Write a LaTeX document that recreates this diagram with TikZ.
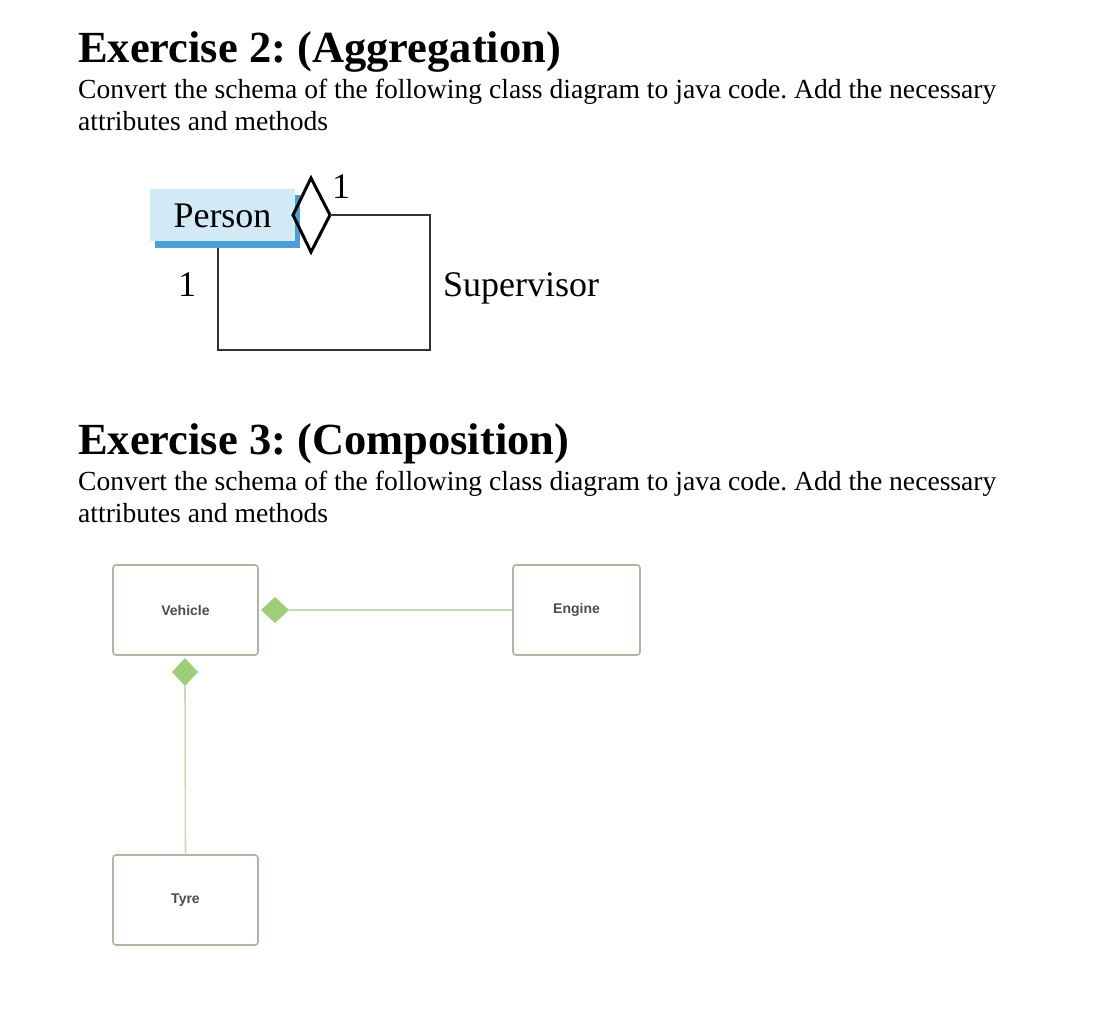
\documentclass[tikz,border=0pt]{standalone}
\usepackage{fontspec}
\setmainfont{Liberation Serif}
\newfontfamily\lsans{Liberation Sans}
\definecolor{pfill}{HTML}{D2EAF6}
\definecolor{pshade}{HTML}{4A9FD8}
\definecolor{gbord}{HTML}{A9B8A0}
\definecolor{gln}{HTML}{C4DDB4}
\definecolor{gdc}{HTML}{9FCD78}
\begin{document}
\frenchspacing
\begin{tikzpicture}[x=1pt,y=-1pt,
  title/.style={anchor=base west,inner sep=0,font=\fontsize{44.5}{48}\selectfont\bfseries},
  body/.style={anchor=base west,inner sep=0,font=\fontsize{27.6}{30}\selectfont},
  uml/.style={anchor=base,inner sep=0,font=\fontsize{36}{40}\selectfont},
  cls/.style={draw=gbord,line width=1.6pt,rounded corners=3pt,fill=white,minimum width=145pt,minimum height=90pt,font=\lsans\bfseries\fontsize{14}{16}\selectfont,text=black!70},
  gline/.style={draw=gln,line width=1.6pt},
  gdia/.style={fill=gdc}]
\useasboundingbox (0,0) rectangle (1101,1023);
\node[title] (t2) at (78,62) {Exercise 2: (Aggregation)};
\node[body] (b2a) at (78,98) {Convert the schema of the following class diagram to java code. Add the necessary};
\node[body] (b2b) at (78,130) {attributes and methods};
% Person
\fill[pshade] (155,195) rectangle (300,248);
\node[fill=pfill,minimum width=145pt,minimum height=52pt,inner sep=0] (person) at (222.5,215) {};
\node[uml] (pl) at (person.center) [yshift=-12] {Person};
\coordinate (dl) at (293,215); \coordinate (dt) at (311,178);
\coordinate (dr) at (330,215); \coordinate (db) at (311,252);
\draw[line width=3pt,line join=miter] (dl) -- (dt) -- (dr) -- (db) -- cycle;
\coordinate (c1) at (430,215); \coordinate (c2) at (430,350); \coordinate (c3) at (218,350); \coordinate (c4) at (218,248);
\draw[line width=1.5pt,black!80] (dr) -- (c1) -- (c2) -- (c3) -- (c4);
\node[uml,anchor=base west] (m1) at (332,198) {1};
\node[uml,anchor=base west] (m2) at (178,296) {1};
\node[uml,anchor=base west] (sup) at (443,296) {Supervisor};
% Exercise 3
\node[title] (t3) at (78,454) {Exercise 3: (Composition)};
\node[body] (b3a) at (78,490) {Convert the schema of the following class diagram to java code. Add the necessary};
\node[body] (b3b) at (78,522) {attributes and methods};
\node[cls] (veh) at (185.5,610) {Vehicle};
\node[cls,minimum width=127pt] (eng) at (576.5,610) {Engine};
\node[cls] (tyre) at (185.5,900) {Tyre};
\coordinate (vd1) at (289,610); \coordinate (vd2) at (185,686);
\draw[gline] (vd1) -- (eng.west);
\draw[gline] (vd2) -- (tyre.north);
\fill[gdia] (261,610) -- (275,597) -- (289,610) -- (275,623) -- cycle;
\fill[gdia] (185,658) -- (198,672) -- (185,686) -- (172,672) -- cycle;
\end{tikzpicture}
\end{document}
